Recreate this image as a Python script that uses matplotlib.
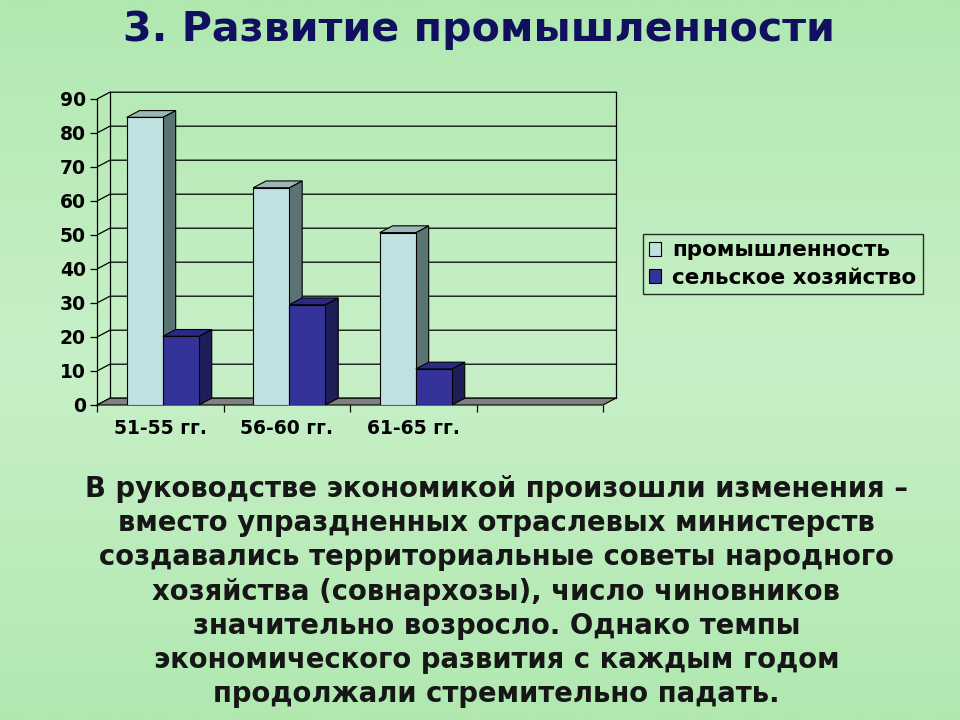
import numpy as np
import matplotlib
matplotlib.use('Agg')
import matplotlib.pyplot as plt
from matplotlib.patches import Polygon, Patch
from matplotlib.colors import LinearSegmentedColormap

# данные диаграммы
categories = ['51-55 гг.', '56-60 гг.', '61-65 гг.', '']
industry = [84.6, 63.9, 50.7]
agriculture = [20.2, 29.5, 10.6]
series_names = ['промышленность', 'сельское хозяйство']
y_ticks = [0, 10, 20, 30, 40, 50, 60, 70, 80, 90]

title = '3. Развитие промышленности'
body = ('В руководстве экономикой произошли изменения –\n'
        'вместо упраздненных отраслевых министерств\n'
        'создавались территориальные советы народного\n'
        'хозяйства (совнархозы), число чиновников\n'
        'значительно возросло. Однако темпы\n'
        'экономического развития с каждым годом\n'
        'продолжали стремительно падать.')

plt.rcParams['font.family'] = ['DejaVu Sans']

fig = plt.figure(figsize=(9.6, 7.2), dpi=100)

# фон: вертикальный градиент
bg = fig.add_axes([0, 0, 1, 1], zorder=-10)
cmap = LinearSegmentedColormap.from_list('bg', ['#b0e8b0', '#c8f0c8', '#b0e8b0'])
bg.imshow(np.linspace(0, 1, 256).reshape(-1, 1), cmap=cmap, aspect='auto',
          extent=[0, 1, 0, 1])
bg.set_axis_off()

# 3D-эффект
dx, dy = 0.102, 2.0
bw = 0.285
light = ('#c0e1e1', '#5c7373', '#9cb5b5')
dark = ('#333399', '#1e1e58', '#2a2a85')

ax = fig.add_axes([97 / 960, 1 - 405 / 720, 4.12 * 126.5 / 960, 92.5 * 3.4 / 720])
ax.set_facecolor('none')
ax.set_xlim(0, 4.12)
ax.set_ylim(0, 92.5)
for s in ax.spines.values():
    s.set_visible(False)

n = len(categories)
# задняя стенка и линии сетки
for v in y_ticks:
    ax.plot([0, dx, n + dx], [v, v + dy, v + dy], color='black', lw=0.9, zorder=1)
ax.plot([dx, dx], [dy, 90 + dy], color='black', lw=0.9, zorder=1)
ax.plot([n + dx, n + dx], [dy, 90 + dy], color='black', lw=0.9, zorder=1)
ax.plot([0, 0], [0, 90], color='black', lw=0.9, zorder=1, clip_on=False)

# пол
ax.add_patch(Polygon([(0, 0), (n, 0), (n + dx, dy), (dx, dy)], closed=True,
                     facecolor='#808080', edgecolor='black', lw=0.8, zorder=2,
                     clip_on=False))


def bar3d(x0, v, cols, z):
    x1 = x0 + bw
    front, side, top = cols
    ax.add_patch(Polygon([(x1, 0), (x1 + dx, dy), (x1 + dx, v + dy), (x1, v)],
                         facecolor=side, edgecolor='black', lw=0.8, zorder=z))
    ax.add_patch(Polygon([(x0, v), (x1, v), (x1 + dx, v + dy), (x0 + dx, v + dy)],
                         facecolor=top, edgecolor='black', lw=0.8, zorder=z))
    ax.bar(x0, v, width=bw, align='edge', color=front, edgecolor='black',
           lw=0.8, zorder=z + 0.5)


for i, (a, b) in enumerate(zip(industry, agriculture)):
    c = i + 0.5 + 0.02
    bar3d(c - bw, a, light, 3 + i * 2)
    bar3d(c, b, dark, 4 + i * 2)

# оси
ax.set_yticks(y_ticks)
ax.set_yticklabels([str(v) for v in y_ticks], fontsize=13.5, fontweight='bold')
ax.tick_params(axis='y', direction='out', length=5, width=0.9, pad=3)
ax.set_xticks(range(n + 1))
ax.set_xticklabels([])
ax.tick_params(axis='x', which='major', direction='out', length=5, width=0.9)
ax.set_xticks([i + 0.5 for i in range(n)], minor=True)
ax.set_xticklabels(categories, minor=True, fontsize=13.5, fontweight='bold')
ax.tick_params(axis='x', which='minor', length=0, pad=10)

# легенда
handles = [Patch(facecolor=light[0], edgecolor='black', lw=0.8),
           Patch(facecolor=dark[0], edgecolor='black', lw=0.8)]
leg = fig.legend(handles, series_names, loc='upper left',
                 bbox_to_anchor=(643 / 960, 1 - 234 / 720), borderaxespad=0,
                 frameon=True, fancybox=False, prop={'size': 15.5, 'weight': 'bold'},
                 handlelength=0.55, handleheight=0.65, handletextpad=0.5,
                 labelspacing=0.33, borderpad=0.3)
leg.get_frame().set_edgecolor('black')
leg.get_frame().set_facecolor('none')
leg.get_frame().set_linewidth(1.0)

fig.text(0.499, 1 - 30 / 720, title, ha='center', va='center', fontsize=29.6,
         fontweight='bold', color='#10105e')
fig.text(0.517, 1 - 591.5 / 720, body, ha='center', va='center', fontsize=19.8,
         fontweight='bold', color='#161616', linespacing=1.285,
         multialignment='center')

fig.savefig('out.png', dpi=100)
